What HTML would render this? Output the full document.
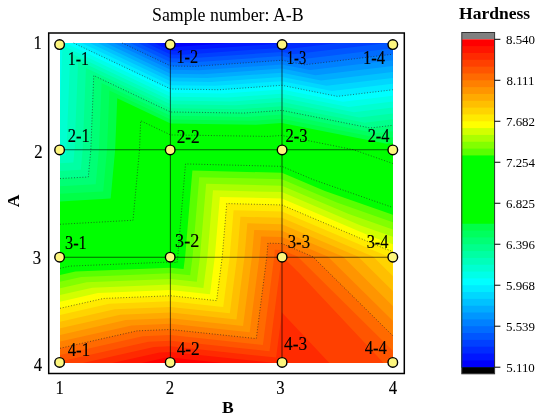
<!DOCTYPE html><html><head><meta charset="utf-8"><style>html,body{margin:0;padding:0;background:#fff;width:550px;height:420px;overflow:hidden}svg{display:block}text{font-family:'Liberation Serif','Times New Roman',serif;fill:#000}</style></head><body>
<svg width="550" height="420" viewBox="0 0 550 420">
<rect width="550" height="420" fill="#fff"/>
<text transform="translate(227.85 20.70) scale(1.015 1.1)" font-size="17.6" text-anchor="middle">Sample number: A-B</text>
<g><path d="M60.0 43.0L392.8 43.0L392.8 363.1L60.0 363.1Z" fill="#0000fa"/>
<path d="M162.44 43.00L170.60 46.87L174.70 46.93L230.40 43.00L281.90 43.00L392.80 43.00L392.80 149.60L392.80 256.60L392.80 363.10L281.90 363.10L170.60 363.10L60.00 363.10L60.00 256.60L60.00 149.60L60.00 43.00Z" fill="#0016ff"/>
<path d="M154.36 43.00L170.60 50.70L178.76 50.82L281.90 43.54L282.61 43.69L288.36 43.00L392.80 43.00L392.80 149.60L392.80 256.60L392.80 363.10L281.90 363.10L170.60 363.10L60.00 363.10L60.00 256.60L60.00 149.60L60.00 43.00Z" fill="#002bff"/>
<path d="M146.28 43.00L170.60 54.53L182.83 54.71L281.90 47.72L288.09 48.95L337.92 43.00L392.80 43.00L392.80 149.60L392.80 256.60L392.80 363.10L281.90 363.10L170.60 363.10L60.00 363.10L60.00 256.60L60.00 149.60L60.00 43.00Z" fill="#0040ff"/>
<path d="M138.20 43.00L170.60 58.35L186.89 58.60L281.90 51.90L293.58 54.22L387.48 43.00L392.80 43.00L392.80 149.60L392.80 256.60L392.80 363.10L281.90 363.10L170.60 363.10L60.00 363.10L60.00 256.60L60.00 149.60L60.00 43.00Z" fill="#0056ff"/>
<path d="M130.12 43.00L170.60 62.18L190.95 62.49L281.90 56.07L299.06 59.49L392.80 48.29L392.80 149.60L392.80 256.60L392.80 363.10L281.90 363.10L170.60 363.10L60.00 363.10L60.00 256.60L60.00 149.60L60.00 43.00Z" fill="#006cff"/>
<path d="M122.04 43.00L170.60 66.01L195.01 66.38L281.90 60.25L304.54 64.76L392.80 54.21L392.80 149.60L392.80 256.60L392.80 363.10L281.90 363.10L170.60 363.10L60.00 363.10L60.00 256.60L60.00 149.60L60.00 43.00Z" fill="#0081ff"/>
<path d="M113.96 43.00L170.60 69.84L199.07 70.27L281.90 64.43L310.02 70.03L392.80 60.13L392.80 149.60L392.80 256.60L392.80 363.10L281.90 363.10L170.60 363.10L60.00 363.10L60.00 256.60L60.00 149.60L60.00 43.00Z" fill="#0096ff"/>
<path d="M105.89 43.00L170.60 73.67L203.13 74.16L281.90 68.60L315.50 75.29L392.80 66.06L392.80 149.60L392.80 256.60L392.80 363.10L281.90 363.10L170.60 363.10L60.00 363.10L60.00 256.60L60.00 149.60L60.00 43.00Z" fill="#00acff"/>
<path d="M97.81 43.00L170.60 77.50L207.20 78.05L281.90 72.78L320.98 80.56L392.80 71.98L392.80 149.60L392.80 256.60L392.80 363.10L281.90 363.10L170.60 363.10L60.00 363.10L60.00 256.60L60.00 149.60L60.00 43.00Z" fill="#00c2ff"/>
<path d="M89.73 43.00L170.60 81.33L211.26 81.94L281.90 76.96L326.46 85.83L392.80 77.90L392.80 149.60L392.80 256.60L392.80 363.10L281.90 363.10L170.60 363.10L60.00 363.10L60.00 256.60L60.00 149.60L60.00 43.00Z" fill="#00d7ff"/>
<path d="M81.65 43.00L170.60 85.16L215.32 85.83L281.90 81.13L331.94 91.10L392.80 83.82L392.80 149.60L392.80 256.60L392.80 363.10L281.90 363.10L170.60 363.10L60.00 363.10L60.00 256.60L60.00 149.60L60.00 43.00Z" fill="#00ecff"/>
<path d="M73.57 43.00L170.60 88.99L219.38 89.72L281.90 85.31L337.42 96.37L392.80 89.75L392.80 149.60L392.80 256.60L392.80 363.10L281.90 363.10L170.60 363.10L60.00 363.10L60.00 256.60L60.00 149.60L60.00 43.00Z" fill="#00ffff"/>
<path d="M65.49 43.00L170.60 92.82L223.44 93.61L281.90 89.49L342.90 101.63L392.80 95.67L392.80 149.60L392.80 256.60L392.80 363.10L281.90 363.10L170.60 363.10L60.00 363.10L60.00 256.60L60.00 149.60L60.00 43.00Z" fill="#00ffe8"/>
<path d="M60.00 107.97L62.51 45.42L170.60 96.65L227.50 97.50L281.90 93.66L348.38 106.90L392.80 101.59L392.80 149.60L392.80 256.60L392.80 363.10L281.90 363.10L170.60 363.10L60.00 363.10L60.00 256.60L60.00 149.60Z" fill="#00ffd1"/>
<path d="M60.00 155.66L65.92 155.33L66.45 149.60L70.32 52.95L170.60 100.48L231.57 101.39L281.90 97.84L353.86 112.17L392.80 107.52L392.80 149.60L392.80 256.60L392.80 363.10L281.90 363.10L170.60 363.10L60.00 363.10L60.00 256.60Z" fill="#00ffba"/>
<path d="M60.00 163.28L73.38 162.55L74.57 149.60L78.14 60.48L170.60 104.30L235.63 105.28L281.90 102.02L359.34 117.44L392.80 113.44L392.80 149.60L392.80 256.60L392.80 363.10L281.90 363.10L170.60 363.10L60.00 363.10L60.00 256.60Z" fill="#00ffa3"/>
<path d="M60.00 170.91L80.84 169.76L82.69 149.60L85.96 68.02L170.60 108.13L239.69 109.17L281.90 106.19L364.82 122.71L392.80 119.36L392.80 149.60L392.80 256.60L392.80 363.10L281.90 363.10L170.60 363.10L60.00 363.10L60.00 256.60Z" fill="#00ff8c"/>
<path d="M60.00 178.53L88.29 176.97L90.81 149.60L93.77 75.55L170.60 111.96L243.75 113.06L281.90 110.37L370.30 127.97L392.80 125.29L392.80 149.60L392.80 256.60L392.80 363.10L281.90 363.10L170.60 363.10L60.00 363.10L60.00 256.60Z" fill="#00ff75"/>
<path d="M60.00 186.16L95.75 184.19L98.92 149.60L101.59 83.09L170.60 115.79L247.81 116.95L281.90 114.55L375.78 133.24L392.80 131.21L392.80 149.60L392.80 256.60L392.80 363.10L281.90 363.10L170.60 363.10L60.00 363.10L60.00 256.60Z" fill="#00ff5e"/>
<path d="M60.00 193.78L103.21 191.40L107.04 149.60L109.41 90.62L170.60 119.62L251.87 120.84L281.90 118.73L381.26 138.51L392.80 137.13L392.80 149.60L392.80 256.60L392.80 363.10L281.90 363.10L170.60 363.10L60.00 363.10L60.00 256.60Z" fill="#00ff47"/>
<path d="M60.00 201.41L110.66 198.62L115.16 149.60L117.22 98.15L170.60 123.45L255.94 124.73L281.90 122.90L386.74 143.78L392.80 143.05L392.80 149.60L392.80 256.60L392.80 363.10L281.90 363.10L170.60 363.10L60.00 363.10L60.00 256.60Z" fill="#00ff00"/>
<path d="M60.00 209.03L118.12 205.83L123.28 149.60L125.04 105.69L170.60 127.28L260.00 128.62L281.90 127.08L392.22 149.05L392.80 148.98L392.80 149.60L392.80 256.60L392.80 363.10L281.90 363.10L170.60 363.10L60.00 363.10L60.00 256.60Z" fill="#00ff00"/>
<path d="M60.00 216.66L125.58 213.04L131.40 149.60L132.86 113.22L170.60 131.11L264.06 132.51L281.90 131.26L374.03 149.60L392.80 156.16L392.80 256.60L392.80 363.10L281.90 363.10L170.60 363.10L60.00 363.10L60.00 256.60Z" fill="#00ff00"/>
<path d="M60.00 224.28L133.03 220.26L139.52 149.60L140.67 120.75L170.60 134.94L268.12 136.40L281.90 135.43L353.05 149.60L392.80 163.49L392.80 256.60L392.80 363.10L281.90 363.10L170.60 363.10L60.00 363.10L60.00 256.60Z" fill="#00ff00"/>
<path d="M60.00 231.90L140.49 227.47L147.63 149.60L148.49 128.29L170.60 138.77L272.18 140.29L281.90 139.61L332.08 149.60L392.80 170.83L392.80 256.60L392.80 363.10L281.90 363.10L170.60 363.10L60.00 363.10L60.00 256.60Z" fill="#00ff00"/>
<path d="M60.00 239.53L147.95 234.68L155.75 149.60L156.31 135.82L170.60 142.60L276.25 144.18L281.90 143.79L311.10 149.60L392.80 178.16L392.80 256.60L392.80 363.10L281.90 363.10L170.60 363.10L60.00 363.10L60.00 256.60Z" fill="#00ff00"/>
<path d="M60.00 247.15L155.40 241.90L163.87 149.60L164.12 143.36L170.60 146.43L280.31 148.07L281.90 147.96L290.13 149.60L392.80 185.49L392.80 256.60L392.80 363.10L281.90 363.10L170.60 363.10L60.00 363.10L60.00 256.60Z" fill="#00ff00"/>
<path d="M60.00 254.78L162.86 249.11L170.60 164.75L171.78 150.73L281.90 153.51L289.14 156.59L392.80 192.82L392.80 256.60L392.80 363.10L281.90 363.10L170.60 363.10L60.00 363.10L60.00 256.60Z" fill="#00ff00"/>
<path d="M60.00 261.67L64.26 260.71L165.35 256.60L170.32 256.33L170.60 253.25L178.64 157.33L281.90 159.94L301.06 168.09L392.80 200.15L392.80 256.60L392.80 363.10L281.90 363.10L170.60 363.10L60.00 363.10Z" fill="#00ff00"/>
<path d="M60.00 268.33L69.87 266.10L170.60 262.01L176.96 262.69L177.74 256.60L185.51 163.94L281.90 166.37L312.98 179.58L392.80 207.49L392.80 256.60L392.80 363.10L281.90 363.10L170.60 363.10L60.00 363.10Z" fill="#00ff00"/>
<path d="M60.00 275.00L75.47 271.50L170.60 267.63L183.57 269.01L185.16 256.60L192.38 170.54L281.90 172.80L324.89 191.08L392.80 214.82L392.80 256.60L392.80 363.10L281.90 363.10L170.60 363.10L60.00 363.10Z" fill="#5aff00"/>
<path d="M60.00 281.66L81.07 276.89L170.60 273.25L190.18 275.34L192.59 256.60L199.25 177.14L281.90 179.23L336.81 202.58L392.80 222.15L392.80 256.60L392.80 363.10L281.90 363.10L170.60 363.10L60.00 363.10Z" fill="#82ff00"/>
<path d="M60.00 288.32L86.68 282.29L170.60 278.88L196.79 281.66L200.01 256.60L206.12 183.75L281.90 185.66L348.73 214.08L392.80 229.48L392.80 256.60L392.80 363.10L281.90 363.10L170.60 363.10L60.00 363.10Z" fill="#aaff00"/>
<path d="M60.00 294.98L92.28 287.68L170.60 284.50L203.40 287.99L207.43 256.60L212.99 190.35L281.90 192.09L360.64 225.58L392.80 236.82L392.80 256.60L392.80 363.10L281.90 363.10L170.60 363.10L60.00 363.10Z" fill="#d2ff00"/>
<path d="M60.00 301.64L97.88 293.08L170.60 290.12L210.01 294.31L214.85 256.60L219.86 196.95L281.90 198.52L372.56 237.07L392.80 244.15L392.80 256.60L392.80 363.10L281.90 363.10L170.60 363.10L60.00 363.10Z" fill="#ffff00"/>
<path d="M60.00 308.31L103.48 298.47L170.60 295.75L216.62 300.64L222.28 256.60L226.73 203.56L281.90 204.95L384.48 248.57L392.80 251.48L392.80 256.60L392.80 363.10L281.90 363.10L170.60 363.10L60.00 363.10Z" fill="#ffea00"/>
<path d="M60.00 314.97L109.09 303.87L170.60 301.37L223.23 306.96L229.70 256.60L233.59 210.16L281.90 211.38L388.24 256.60L392.80 261.10L392.80 363.10L281.90 363.10L170.60 363.10L60.00 363.10Z" fill="#ffd400"/>
<path d="M60.00 321.63L114.69 309.26L170.60 306.99L229.85 313.29L237.12 256.60L240.46 216.76L281.90 217.81L373.12 256.60L392.80 276.04L392.80 363.10L281.90 363.10L170.60 363.10L60.00 363.10Z" fill="#ffbf00"/>
<path d="M60.00 328.29L120.29 314.66L170.60 312.61L236.46 319.62L244.54 256.60L247.33 223.37L281.90 224.24L358.00 256.60L392.80 290.97L392.80 363.10L281.90 363.10L170.60 363.10L60.00 363.10Z" fill="#ffaa00"/>
<path d="M60.00 334.96L125.90 320.05L170.60 318.24L243.07 325.94L251.97 256.60L254.20 229.97L281.90 230.67L342.88 256.60L392.80 305.90L392.80 363.10L281.90 363.10L170.60 363.10L60.00 363.10Z" fill="#ff9500"/>
<path d="M60.00 341.62L131.50 325.45L170.60 323.86L249.68 332.27L259.39 256.60L261.07 236.57L281.90 237.10L327.76 256.60L392.80 320.83L392.80 363.10L281.90 363.10L170.60 363.10L60.00 363.10Z" fill="#ff8000"/>
<path d="M60.00 348.28L137.10 330.84L170.60 329.48L256.29 338.59L266.81 256.60L267.94 243.18L281.90 243.53L312.64 256.60L392.80 335.76L392.80 363.10L281.90 363.10L170.60 363.10L60.00 363.10Z" fill="#ff6a00"/>
<path d="M60.00 354.94L142.70 336.24L170.60 335.10L262.90 344.92L274.24 256.60L274.81 249.78L281.90 249.96L297.51 256.60L392.80 350.69L392.80 363.10L281.90 363.10L170.60 363.10L60.00 363.10Z" fill="#ff5500"/>
<path d="M60.00 361.61L148.31 341.63L170.60 340.73L269.51 351.24L281.66 256.60L281.68 256.38L281.90 256.39L282.39 256.60L299.87 273.86L383.63 363.10L281.90 363.10L170.60 363.10L60.00 363.10Z" fill="#ff4000"/>
<path d="M82.85 363.10L153.91 347.03L170.60 346.35L276.12 357.57L281.90 312.54L329.36 363.10L281.90 363.10L170.60 363.10Z" fill="#ff2a00"/>
<path d="M112.30 363.10L159.51 352.42L170.60 351.97L275.25 363.10L170.60 363.10Z" fill="#ff1500"/>
<path d="M141.76 363.10L165.11 357.82L170.60 357.60L222.37 363.10L170.60 363.10Z" fill="#ff0000"/></g>
<g fill="none" stroke="#202020" stroke-width="0.95" stroke-dasharray="1 1.8" stroke-opacity="0.65"><path d="M122.04 43.00L170.60 66.01L195.01 66.38L281.90 60.25L304.54 64.76L392.80 54.21"/>
<path d="M73.57 43.00L170.60 88.99L219.38 89.72L281.90 85.31L337.42 96.37L392.80 89.75"/>
<path d="M60.00 178.53L88.29 176.97L90.81 149.60L93.77 75.55L170.60 111.96L243.75 113.06L281.90 110.37L370.30 127.97L392.80 125.29"/>
<path d="M60.00 224.28L133.03 220.26L139.52 149.60L140.67 120.75L170.60 134.94L268.12 136.40L281.90 135.43L353.05 149.60L392.80 163.49"/>
<path d="M60.00 268.33L69.87 266.10L170.60 262.01L176.96 262.69L177.74 256.60L185.51 163.94L281.90 166.37L312.98 179.58L392.80 207.49"/>
<path d="M60.00 308.31L103.48 298.47L170.60 295.75L216.62 300.64L222.28 256.60L226.73 203.56L281.90 204.95L384.48 248.57L392.80 251.48"/>
<path d="M60.00 348.28L137.10 330.84L170.60 329.48L256.29 338.59L266.81 256.60L267.94 243.18L281.90 243.53L312.64 256.60L392.80 335.76"/></g>
<g stroke="#000" stroke-width="1.1" stroke-opacity="0.6"><line x1="170.4" y1="43.0" x2="170.4" y2="363.1"/><line x1="282.0" y1="43.0" x2="282.0" y2="363.1"/><line x1="60.0" y1="149.7" x2="392.8" y2="149.7"/><line x1="60.0" y1="257.2" x2="392.8" y2="257.2"/></g>
<rect x="48.7" y="33" width="355.6" height="340.5" fill="none" stroke="#000" stroke-width="1.5"/>
<g fill="#fdf67e" stroke="#000" stroke-width="1.4"><circle cx="59.6" cy="44.6" r="4.8"/><circle cx="170.2" cy="44.6" r="4.8"/><circle cx="282.1" cy="44.6" r="4.8"/><circle cx="392.8" cy="44.6" r="4.8"/><circle cx="59.6" cy="149.9" r="4.8"/><circle cx="170.2" cy="149.9" r="4.8"/><circle cx="282.1" cy="149.9" r="4.8"/><circle cx="392.8" cy="149.9" r="4.8"/><circle cx="59.6" cy="257.2" r="4.8"/><circle cx="170.2" cy="257.2" r="4.8"/><circle cx="282.1" cy="257.2" r="4.8"/><circle cx="392.8" cy="257.2" r="4.8"/><circle cx="59.6" cy="362.4" r="4.8"/><circle cx="170.2" cy="362.4" r="4.8"/><circle cx="282.1" cy="362.4" r="4.8"/><circle cx="392.8" cy="362.4" r="4.8"/></g>
<g><text transform="translate(78.40 65.40) scale(0.9061 1.07)" font-size="17.6" text-anchor="middle" stroke="#000" stroke-width="0.15">1-1</text><text transform="translate(187.30 62.50) scale(0.9268 1.07)" font-size="17.6" text-anchor="middle" stroke="#000" stroke-width="0.15">1-2</text><text transform="translate(296.50 63.50) scale(0.8236 1.07)" font-size="17.6" text-anchor="middle" stroke="#000" stroke-width="0.15">1-3</text><text transform="translate(374.10 64.30) scale(0.9435 1.07)" font-size="17.6" text-anchor="middle" stroke="#000" stroke-width="0.15">1-4</text><text transform="translate(78.70 141.80) scale(0.9412 1.07)" font-size="17.6" text-anchor="middle" stroke="#000" stroke-width="0.15">2-1</text><text transform="translate(188.20 142.70) scale(0.9868 1.07)" font-size="17.6" text-anchor="middle" stroke="#000" stroke-width="0.15">2-2</text><text transform="translate(296.50 141.70) scale(0.9386 1.07)" font-size="17.6" text-anchor="middle" stroke="#000" stroke-width="0.15">2-3</text><text transform="translate(378.60 141.70) scale(0.933 1.07)" font-size="17.6" text-anchor="middle" stroke="#000" stroke-width="0.15">2-4</text><text transform="translate(75.90 248.90) scale(0.9268 1.07)" font-size="17.6" text-anchor="middle" stroke="#000" stroke-width="0.15">3-1</text><text transform="translate(187.20 246.80) scale(1.0308 1.07)" font-size="17.6" text-anchor="middle" stroke="#000" stroke-width="0.15">3-2</text><text transform="translate(298.90 248.20) scale(0.95 1.07)" font-size="17.6" text-anchor="middle" stroke="#000" stroke-width="0.15">3-3</text><text transform="translate(377.60 248.20) scale(0.9351 1.07)" font-size="17.6" text-anchor="middle" stroke="#000" stroke-width="0.15">3-4</text><text transform="translate(78.90 355.60) scale(0.9522 1.07)" font-size="17.6" text-anchor="middle" stroke="#000" stroke-width="0.15">4-1</text><text transform="translate(188.20 354.70) scale(0.9868 1.07)" font-size="17.6" text-anchor="middle" stroke="#000" stroke-width="0.15">4-2</text><text transform="translate(295.60 349.80) scale(0.9868 1.07)" font-size="17.6" text-anchor="middle" stroke="#000" stroke-width="0.15">4-3</text><text transform="translate(375.70 353.80) scale(0.9419 1.07)" font-size="17.6" text-anchor="middle" stroke="#000" stroke-width="0.15">4-4</text></g>
<g><text transform="translate(37.80 49.40) scale(0.95 1.07)" font-size="17.6" text-anchor="middle" stroke="#000" stroke-width="0.15">1</text><text transform="translate(38.55 158.20) scale(0.95 1.07)" font-size="17.6" text-anchor="middle" stroke="#000" stroke-width="0.15">2</text><text transform="translate(37.00 263.90) scale(0.95 1.07)" font-size="17.6" text-anchor="middle" stroke="#000" stroke-width="0.15">3</text><text transform="translate(38.00 371.10) scale(0.95 1.07)" font-size="17.6" text-anchor="middle" stroke="#000" stroke-width="0.15">4</text><text transform="translate(59.70 393.70) scale(0.95 1.07)" font-size="17.6" text-anchor="middle" stroke="#000" stroke-width="0.15">1</text><text transform="translate(169.85 393.70) scale(0.95 1.07)" font-size="17.6" text-anchor="middle" stroke="#000" stroke-width="0.15">2</text><text transform="translate(280.50 393.70) scale(0.95 1.07)" font-size="17.6" text-anchor="middle" stroke="#000" stroke-width="0.15">3</text><text transform="translate(393.00 393.70) scale(0.95 1.07)" font-size="17.6" text-anchor="middle" stroke="#000" stroke-width="0.15">4</text></g>
<text transform="translate(227.75 413.00) scale(1.0 0.95)" font-size="17.6" text-anchor="middle" font-weight="bold">B</text>
<g transform="translate(19.3 200.9) rotate(-90)"><text transform="translate(0.00 0.00) scale(1.0 0.93)" font-size="17.6" text-anchor="middle" font-weight="bold">A</text></g>
<g><rect x="461.8" y="32.5" width="32.8" height="6.799999999999997" fill="#808080"/><rect x="461.8" y="39.30" width="32.8" height="327.90" fill="#ff0000"/><rect x="461.8" y="46.13" width="32.8" height="321.07" fill="#ff1500"/><rect x="461.8" y="52.96" width="32.8" height="314.24" fill="#ff2a00"/><rect x="461.8" y="59.79" width="32.8" height="307.41" fill="#ff4000"/><rect x="461.8" y="66.62" width="32.8" height="300.57" fill="#ff5500"/><rect x="461.8" y="73.46" width="32.8" height="293.74" fill="#ff6a00"/><rect x="461.8" y="80.29" width="32.8" height="286.91" fill="#ff8000"/><rect x="461.8" y="87.12" width="32.8" height="280.08" fill="#ff9500"/><rect x="461.8" y="93.95" width="32.8" height="273.25" fill="#ffaa00"/><rect x="461.8" y="100.78" width="32.8" height="266.42" fill="#ffbf00"/><rect x="461.8" y="107.61" width="32.8" height="259.59" fill="#ffd400"/><rect x="461.8" y="114.44" width="32.8" height="252.76" fill="#ffea00"/><rect x="461.8" y="121.28" width="32.8" height="245.92" fill="#ffff00"/><rect x="461.8" y="128.11" width="32.8" height="239.09" fill="#d2ff00"/><rect x="461.8" y="134.94" width="32.8" height="232.26" fill="#aaff00"/><rect x="461.8" y="141.77" width="32.8" height="225.43" fill="#82ff00"/><rect x="461.8" y="148.60" width="32.8" height="218.60" fill="#5aff00"/><rect x="461.8" y="155.43" width="32.8" height="211.77" fill="#00ff00"/><rect x="461.8" y="162.26" width="32.8" height="204.94" fill="#00ff00"/><rect x="461.8" y="169.09" width="32.8" height="198.11" fill="#00ff00"/><rect x="461.8" y="175.92" width="32.8" height="191.28" fill="#00ff00"/><rect x="461.8" y="182.76" width="32.8" height="184.44" fill="#00ff00"/><rect x="461.8" y="189.59" width="32.8" height="177.61" fill="#00ff00"/><rect x="461.8" y="196.42" width="32.8" height="170.78" fill="#00ff00"/><rect x="461.8" y="203.25" width="32.8" height="163.95" fill="#00ff00"/><rect x="461.8" y="210.08" width="32.8" height="157.12" fill="#00ff00"/><rect x="461.8" y="216.91" width="32.8" height="150.29" fill="#00ff00"/><rect x="461.8" y="223.74" width="32.8" height="143.46" fill="#00ff47"/><rect x="461.8" y="230.57" width="32.8" height="136.62" fill="#00ff5e"/><rect x="461.8" y="237.41" width="32.8" height="129.79" fill="#00ff75"/><rect x="461.8" y="244.24" width="32.8" height="122.96" fill="#00ff8c"/><rect x="461.8" y="251.07" width="32.8" height="116.13" fill="#00ffa3"/><rect x="461.8" y="257.90" width="32.8" height="109.30" fill="#00ffba"/><rect x="461.8" y="264.73" width="32.8" height="102.47" fill="#00ffd1"/><rect x="461.8" y="271.56" width="32.8" height="95.64" fill="#00ffe8"/><rect x="461.8" y="278.39" width="32.8" height="88.81" fill="#00ffff"/><rect x="461.8" y="285.23" width="32.8" height="81.97" fill="#00ecff"/><rect x="461.8" y="292.06" width="32.8" height="75.14" fill="#00d7ff"/><rect x="461.8" y="298.89" width="32.8" height="68.31" fill="#00c2ff"/><rect x="461.8" y="305.72" width="32.8" height="61.48" fill="#00acff"/><rect x="461.8" y="312.55" width="32.8" height="54.65" fill="#0096ff"/><rect x="461.8" y="319.38" width="32.8" height="47.82" fill="#0081ff"/><rect x="461.8" y="326.21" width="32.8" height="40.99" fill="#006cff"/><rect x="461.8" y="333.04" width="32.8" height="34.16" fill="#0056ff"/><rect x="461.8" y="339.88" width="32.8" height="27.32" fill="#0040ff"/><rect x="461.8" y="346.71" width="32.8" height="20.49" fill="#002bff"/><rect x="461.8" y="353.54" width="32.8" height="13.66" fill="#0016ff"/><rect x="461.8" y="360.37" width="32.8" height="6.83" fill="#0000fa"/><rect x="461.8" y="367.2" width="32.8" height="6.60" fill="#000"/><rect x="461.8" y="32.5" width="32.8" height="341.30" fill="none" stroke="#333" stroke-width="1"/><line x1="494.6" y1="39.30" x2="500.40000000000003" y2="39.30" stroke="#000" stroke-width="1"/><text transform="translate(520.50 44.00) scale(0.98 0.98)" font-size="13.2" text-anchor="middle">8.540</text><line x1="494.6" y1="80.29" x2="500.40000000000003" y2="80.29" stroke="#000" stroke-width="1"/><text transform="translate(520.50 84.99) scale(0.98 0.98)" font-size="13.2" text-anchor="middle">8.111</text><line x1="494.6" y1="121.27" x2="500.40000000000003" y2="121.27" stroke="#000" stroke-width="1"/><text transform="translate(520.50 125.97) scale(0.98 0.98)" font-size="13.2" text-anchor="middle">7.682</text><line x1="494.6" y1="162.26" x2="500.40000000000003" y2="162.26" stroke="#000" stroke-width="1"/><text transform="translate(520.50 166.96) scale(0.98 0.98)" font-size="13.2" text-anchor="middle">7.254</text><line x1="494.6" y1="203.25" x2="500.40000000000003" y2="203.25" stroke="#000" stroke-width="1"/><text transform="translate(520.50 207.95) scale(0.98 0.98)" font-size="13.2" text-anchor="middle">6.825</text><line x1="494.6" y1="244.24" x2="500.40000000000003" y2="244.24" stroke="#000" stroke-width="1"/><text transform="translate(520.50 248.94) scale(0.98 0.98)" font-size="13.2" text-anchor="middle">6.396</text><line x1="494.6" y1="285.22" x2="500.40000000000003" y2="285.22" stroke="#000" stroke-width="1"/><text transform="translate(520.50 289.92) scale(0.98 0.98)" font-size="13.2" text-anchor="middle">5.968</text><line x1="494.6" y1="326.21" x2="500.40000000000003" y2="326.21" stroke="#000" stroke-width="1"/><text transform="translate(520.50 330.91) scale(0.98 0.98)" font-size="13.2" text-anchor="middle">5.539</text><line x1="494.6" y1="367.20" x2="500.40000000000003" y2="367.20" stroke="#000" stroke-width="1"/><text transform="translate(520.50 371.90) scale(0.98 0.98)" font-size="13.2" text-anchor="middle">5.110</text></g>
<text transform="translate(494.60 18.90) scale(0.98 0.915)" font-size="17.9" text-anchor="middle" font-weight="bold">Hardness</text>
</svg></body></html>
